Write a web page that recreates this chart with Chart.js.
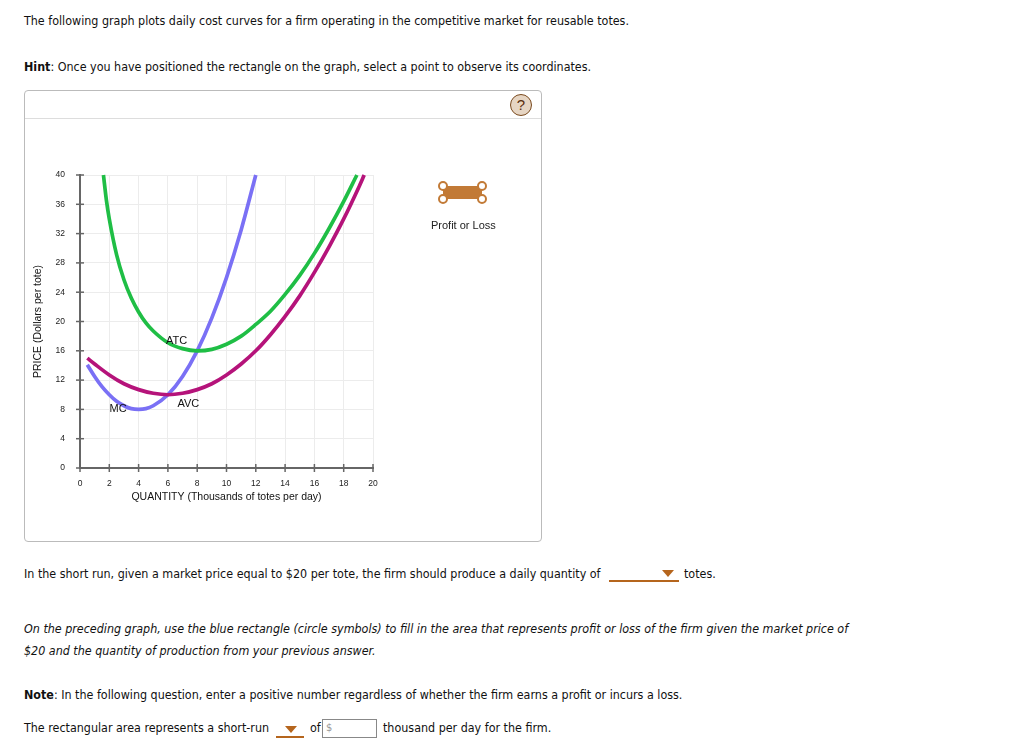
<!DOCTYPE html>
<html>
<head>
<meta charset="utf-8">
<script src="https://cdn.jsdelivr.net/npm/chart.js@4.4.1/dist/chart.umd.min.js"></script>
<style>
  body { margin: 0; background: #fff; font-family: "DejaVu Sans Condensed", "DejaVu Sans", sans-serif; font-size: 12.4px; color: #111; }
  .t { position: absolute; white-space: nowrap; line-height: 14px; }
  #box { position: absolute; left: 24px; top: 90px; width: 516px; height: 450px; border: 1px solid #bbb; border-radius: 4px; }
  #boxHead { position: absolute; left: 0; top: 0; right: 0; height: 27px; border-bottom: 1px solid #ddd; }
  #help { position: absolute; left: 485px; top: 3px; width: 20px; height: 20px; border-radius: 50%; background: #e6d5c3; border: 1.5px solid #7a4a1e; color: #5a2d0c; font: 15px "Liberation Sans", Arial, sans-serif; text-align: center; line-height: 20px; }
  #grafico { position: absolute; left: 24px; top: 118px; }
  #icono { position: absolute; left: 443px; top: 186px; width: 39px; height: 13px; background: #c27a36; }
  .dot { position: absolute; width: 6px; height: 6px; border-radius: 50%; background: #fff; border: 2px solid #c27a36; }
  #pol { position: absolute; left: 431px; top: 219px; font: 11px "Liberation Sans", Arial, sans-serif; color: #222; }
  .sel { position: absolute; border-bottom: 2px solid #b5651d; height: 14px; }
  .tri { position: absolute; width: 0; height: 0; border-left: 6px solid transparent; border-right: 6px solid transparent; border-top: 7px solid #b5651d; }
  #campo { position: absolute; left: 322px; top: 719px; width: 53px; height: 17px; border: 1px solid #888; }
  #campo span { position: absolute; left: 3px; top: 1px; color: #999; font-size: 11px; }
  b { font-weight: bold; }
</style>
</head>
<body>
<div class="t" style="left:24px;top:14px">The following graph plots daily cost curves for a firm operating in the competitive market for reusable totes.</div>
<div class="t" style="left:24px;top:60px"><b>Hint</b>: Once you have positioned the rectangle on the graph, select a point to observe its coordinates.</div>

<div id="box"><div id="boxHead"><div id="help">?</div></div></div>
<canvas id="grafico" width="517" height="423" style="width:517px;height:423px"></canvas>

<div id="icono"></div>
<div class="dot" style="left:438px;top:181px"></div>
<div class="dot" style="left:477px;top:181px"></div>
<div class="dot" style="left:438px;top:194px"></div>
<div class="dot" style="left:477px;top:194px"></div>
<div id="pol">Profit or Loss</div>

<div class="t" style="left:24px;top:567px">In the short run, given a market price equal to $20 per tote, the firm should produce a daily quantity of</div>
<div class="sel" style="left:609px;top:566px;width:70px"></div>
<div class="tri" style="left:662px;top:570px"></div>
<div class="t" style="left:684px;top:567px">totes.</div>

<div class="t" style="left:24px;top:622px;font-style:italic">On the preceding graph, use the blue rectangle (circle symbols) to fill in the area that represents profit or loss of the firm given the market price of</div>
<div class="t" style="left:24px;top:644px;font-style:italic">$20 and the quantity of production from your previous answer.</div>

<div class="t" style="left:24px;top:688px"><b>Note</b>: In the following question, enter a positive number regardless of whether the firm earns a profit or incurs a loss.</div>
<div class="t" style="left:24px;top:721px">The rectangular area represents a short-run</div>
<div class="sel" style="left:276px;top:722px;width:28px"></div>
<div class="tri" style="left:285px;top:726px"></div>
<div class="t" style="left:310px;top:721px">of</div>
<div id="campo"><span>$</span></div>
<div class="t" style="left:383px;top:721px">thousand per day for the firm.</div>

<script>
// Curvas de coste (miles de bolsas por dia, dolares por bolsa)
var qMC = [0.5, 1, 1.5, 2, 2.5, 3, 3.5, 4, 4.5, 5, 6, 7, 8, 9, 10, 11, 12];
var pMC = [14.1, 12.5, 11.1, 10, 9.1, 8.5, 8.1, 8, 8.1, 8.5, 10, 12.5, 16, 20.5, 26, 32.5, 40];
var qAVC = [0.5, 1, 2, 3, 4, 5, 6, 7, 8, 9, 10, 11, 12, 13, 14, 15, 16, 17, 18, 19, 19.4];
var pAVC = [15, 14.2, 12.7, 11.5, 10.7, 10.2, 10, 10.2, 10.7, 11.5, 12.7, 14.2, 16, 18.2, 20.7, 23.5, 26.7, 30.2, 34, 38.2, 40];
var qATC = [1.6, 1.8, 2, 2.5, 3, 3.5, 4, 4.5, 5, 6, 7, 8, 9, 10, 11, 12, 13, 14, 15, 16, 17, 18, 18.9];
var pATC = [40, 36.6, 34, 29.1, 25.7, 23.2, 21.3, 19.8, 18.7, 17.1, 16.3, 16, 16.2, 16.9, 18, 19.6, 21.4, 23.7, 26.3, 29.3, 32.7, 36.4, 40];
// Etiquetas de curva: nombre, cantidad, precio
var etiquetas = [["ATC", 6.6, 17.3], ["MC", 2.6, 8.0], ["AVC", 7.4, 8.7]];

function puntos(qs, ps) {
    var res = [];
    for (var i = 0; i < qs.length; i++) res.push({x: qs[i], y: ps[i]});
    return res;
}

var fuente = '"Liberation Sans", Arial, sans-serif';

// marcas de eje que cruzan la linea + etiquetas de curvas
var extras = {
    id: 'extras',
    afterDatasetsDraw: function (chart) {
        var c = chart.ctx, xs = chart.scales.x, ys = chart.scales.y;
        c.save();
        c.strokeStyle = '#666';
        c.lineWidth = 1.5;
        xs.ticks.forEach(function (t) {
            var px = xs.getPixelForValue(t.value);
            c.beginPath(); c.moveTo(px, ys.bottom - 4); c.lineTo(px, ys.bottom + 4); c.stroke();
        });
        ys.ticks.forEach(function (t) {
            var py = ys.getPixelForValue(t.value);
            c.beginPath(); c.moveTo(xs.left - 4, py); c.lineTo(xs.left + 4, py); c.stroke();
        });
        c.fillStyle = '#111';
        c.font = '11px ' + fuente;
        c.textAlign = 'center';
        c.textBaseline = 'middle';
        etiquetas.forEach(function (e) {
            c.fillText(e[0], xs.getPixelForValue(e[1]), ys.getPixelForValue(e[2]));
        });
        c.restore();
    }
};

var ctx = document.getElementById("grafico").getContext("2d");
var grafico = new Chart(ctx, {
    type: 'scatter',
    data: {
        datasets: [
            {label: 'ATC', data: puntos(qATC, pATC), borderColor: '#1fbe45'},
            {label: 'AVC', data: puntos(qAVC, pAVC), borderColor: '#b5137a'},
            {label: 'MC', data: puntos(qMC, pMC), borderColor: '#7a70f5'}
        ]
    },
    options: {
        responsive: false,
        animation: false,
        showLine: true,
        clip: false,
        layout: {padding: {left: 0, top: 57, right: 168, bottom: 0}},
        elements: {
            point: {radius: 0},
            line: {borderWidth: 3.7, cubicInterpolationMode: 'monotone', fill: false}
        },
        plugins: {legend: {display: false}, tooltip: {enabled: false}},
        scales: {
            x: {
                type: 'linear', min: 0, max: 20,
                afterFit: function (s) { s.height = 73; },
                grid: {color: '#ececec', drawTicks: false},
                border: {color: '#666', width: 2},
                ticks: {stepSize: 2, padding: 11, color: '#222', font: {size: 8.5, family: fuente}},
                title: {display: true, text: 'QUANTITY (Thousands of totes per day)', color: '#111',
                        font: {size: 10.5, family: fuente}, padding: {top: 0, bottom: 38}}
            },
            y: {
                type: 'linear', min: 0, max: 40,
                afterFit: function (s) { s.width = 56; },
                grid: {color: '#ececec', drawTicks: false},
                border: {color: '#666', width: 2},
                ticks: {stepSize: 4, padding: 15, color: '#222', font: {size: 8.5, family: fuente}},
                title: {display: true, text: 'PRICE (Dollars per tote)', color: '#111',
                        font: {size: 10.5, family: fuente}, padding: {top: 8, bottom: 0}}
            }
        }
    },
    plugins: [extras]
});
</script>
</body>
</html>
